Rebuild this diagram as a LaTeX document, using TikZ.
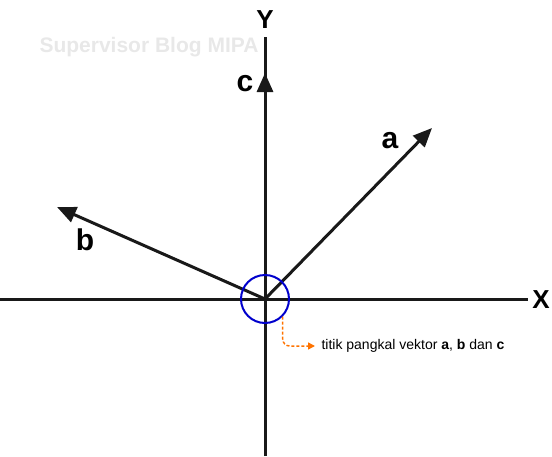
\documentclass[tikz,border=0pt]{standalone}
\usepackage{fontspec}
\setmainfont{Liberation Sans}
\usetikzlibrary{arrows.meta}
\begin{document}
\begin{tikzpicture}[x=1pt,y=-1pt]

\def\AXISCOLOR{black!90}
\def\RINGCOLOR{blue!80!black}
\def\NOTECOLOR{orange!90!red}
\tikzset{
  axisline/.style={line width=3pt,\AXISCOLOR},
  vecline/.style={line width=3pt,\AXISCOLOR,-{Triangle[length=19pt,width=16pt]}},
  veclabel/.style={font=\fontsize{30}{30}\selectfont\bfseries},
  axislabel/.style={font=\fontsize{26}{26}\selectfont\bfseries},
}
	\useasboundingbox (0,0) rectangle (552,456);
	% watermark
	\node[font=\fontsize{21}{21}\selectfont\bfseries,text=gray!18] (mark) at (149,47) {Supervisor Blog MIPA};
	% axes
	\coordinate (O) at (265,299);
	\coordinate (xl) at (0,299);
	\coordinate (xr) at (528,299);
	\coordinate (yt) at (265,37);
	\coordinate (yb) at (265,456);
	\draw[axisline] (xl) -- (xr);
	\draw[axisline] (yb) -- (yt);
	\node[axislabel] (X) at (541,300) {X};
	\node[axislabel] (Y) at (265,20) {Y};
	% vectors
	\coordinate (A) at (432,128);
	\coordinate (B) at (57,207);
	\coordinate (C) at (265,73);
	\draw[vecline] (O) -- (A);
	\draw[vecline] (O) -- (B);
	\draw[vecline] (O) -- (C);
	\node[veclabel] (a) at (390,141) {a};
	\node[veclabel] (b) at (85,240) {b};
	\node[veclabel] (c) at (245,84) {c};
	% starting point
	\node[circle,draw=\RINGCOLOR,line width=2pt,minimum size=48pt,inner sep=0pt] (ring) at (O) {};
	\node[anchor=west,font=\fontsize{14}{14}\selectfont] (note) at (318,346) {titik pangkal vektor \textbf{a}, \textbf{b} dan \textbf{c}};
	\draw[\NOTECOLOR,line width=1.5pt,dash pattern=on 3pt off 2pt,rounded corners=7pt,
	  -{Triangle[length=7pt,width=7pt]},shorten >=3pt]
	  (ring.-45) |- (note.west);

\end{tikzpicture}
\end{document}
